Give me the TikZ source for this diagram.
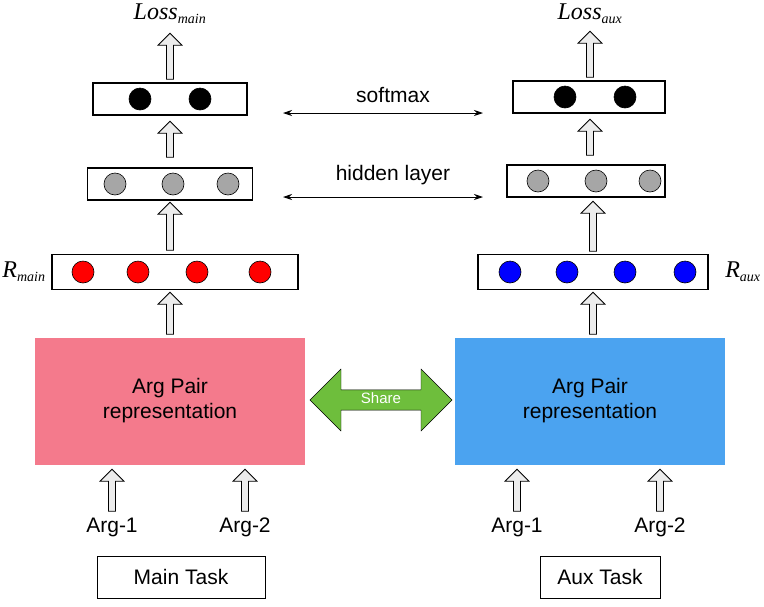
\documentclass[tikz,border=0pt]{standalone}
\usepackage{fontspec}
\setmainfont{Liberation Sans}
\newfontfamily\timesf{Liberation Serif}
\usetikzlibrary{shapes.arrows,arrows.meta}

\tikzstyle{layer} = [draw, rectangle, line width=1.2pt]
\tikzstyle{unit} = [draw, circle, minimum size=22, inner sep=0, line width=0.6pt]
\tikzstyle{up} = [draw, single arrow, shape border rotate=90, fill=gray!15,
  single arrow head extend=6pt, single arrow head indent=0pt, minimum width=24, inner sep=2pt, line width=0.8pt]
\tikzstyle{big} = [font=\fontsize{21}{25}\selectfont]
\tikzstyle{repr} = [rectangle, minimum width=270, minimum height=127, align=center, big]
\tikzstyle{task} = [draw, rectangle, big, minimum height=42, line width=0.8pt]
\tikzstyle{lab} = [font=\fontsize{24}{28}\selectfont\timesf\itshape]
\tikzstyle{link} = [{Stealth[length=9pt,width=6pt]}-{Stealth[length=9pt,width=6pt]}, line width=0.9pt]

\begin{document}
\begin{tikzpicture}[x=1pt, y=-1pt]
  \useasboundingbox (0,0) rectangle (764,606);
  % left tower
  \node[lab] (lossm) at (170,14) {Loss\textsubscript{\fontsize{14}{16}\selectfont main}};
  \node[layer, minimum width=154, minimum height=32] (softm) at (170,99) {};
  \node[layer, minimum width=165, minimum height=32] (hidm) at (170,184) {};
  \node[layer, minimum width=246, minimum height=35] (rm) at (175,272) {};
  \node[lab] (rml) at (24,272) {R\textsubscript{\fontsize{14}{16}\selectfont main}};
  \foreach \x in {140,200} \node[unit, fill=black] (sm\x) at (\x,99) {};
  \foreach \x in {115,173,228} \node[unit, fill=gray!70] (hm\x) at (\x,184) {};
  \foreach \x in {83,138,197,260} \node[unit, fill=red] (rm\x) at (\x,272) {};
  \node[repr, fill={rgb,255:red,244;green,122;blue,140}] (pairm) at (170,401) {Arg Pair\\representation};
  \node[up, minimum height=46] (a1) at (170,58) {};
  \node[up, minimum height=36] (a2) at (170,141) {};
  \node[up, minimum height=48] (a3) at (170,228) {};
  \node[up, minimum height=42] (a4) at (170,315) {};
  \node[big] (arg1m) at (112,527) {Arg-1};
  \node[big] (arg2m) at (245,527) {Arg-2};
  \node[up, minimum height=42] (a5) at (112,492) {};
  \node[up, minimum height=42] (a6) at (245,492) {};
  \node[task, minimum width=168] (main) at (181,577) {Main Task};
  % right tower
  \node[lab] (lossa) at (590,14) {Loss\textsubscript{\fontsize{14}{16}\selectfont aux}};
  \node[layer, minimum width=152, minimum height=32] (softa) at (589,97) {};
  \node[layer, minimum width=158, minimum height=32] (hida) at (586,181) {};
  \node[layer, minimum width=230, minimum height=35] (ra) at (593,272) {};
  \node[lab] (ral) at (743,272) {R\textsubscript{\fontsize{14}{16}\selectfont aux}};
  \foreach \x in {565,625} \node[unit, fill=black] (sa\x) at (\x,97) {};
  \foreach \x in {538,596,650} \node[unit, fill=gray!70] (ha\x) at (\x,181) {};
  \foreach \x in {510,567,625,685} \node[unit, fill=blue] (ra\x) at (\x,272) {};
  \node[repr, fill={rgb,255:red,75;green,163;blue,240}] (paira) at (590,401) {Arg Pair\\representation};
  \node[up, minimum height=46] (b1) at (590,56) {};
  \node[up, minimum height=36] (b2) at (590,139) {};
  \node[up, minimum height=50] (b3) at (593,228) {};
  \node[up, minimum height=42] (b4) at (593,315) {};
  \node[big] (arg1a) at (517,527) {Arg-1};
  \node[big] (arg2a) at (660,527) {Arg-2};
  \node[up, minimum height=42] (b5) at (517,492) {};
  \node[up, minimum height=42] (b6) at (660,492) {};
  \node[task, minimum width=120] (aux) at (600,577) {Aux Task};
  % links between towers
  \coordinate (s1) at (283,113);
  \coordinate (s2) at (483,113);
  \draw[link] (s1) -- (s2);
  \node[big] (smx) at (393,95) {softmax};
  \node[big] (hl) at (393,175) {hidden layer};
  \coordinate (h1) at (283,197);
  \coordinate (h2) at (483,197);
  \draw[link] (h1) -- (h2);
  \node[draw, double arrow, fill={rgb,255:red,110;green,190;blue,60}, minimum width=62,
    minimum height=142, double arrow head extend=16pt, double arrow head indent=0pt,
    inner sep=0pt, text height=11pt, text depth=4pt, font=\fontsize{15}{18}\selectfont, text=white] (share) at (381,400) {Share};
\end{tikzpicture}
\end{document}
